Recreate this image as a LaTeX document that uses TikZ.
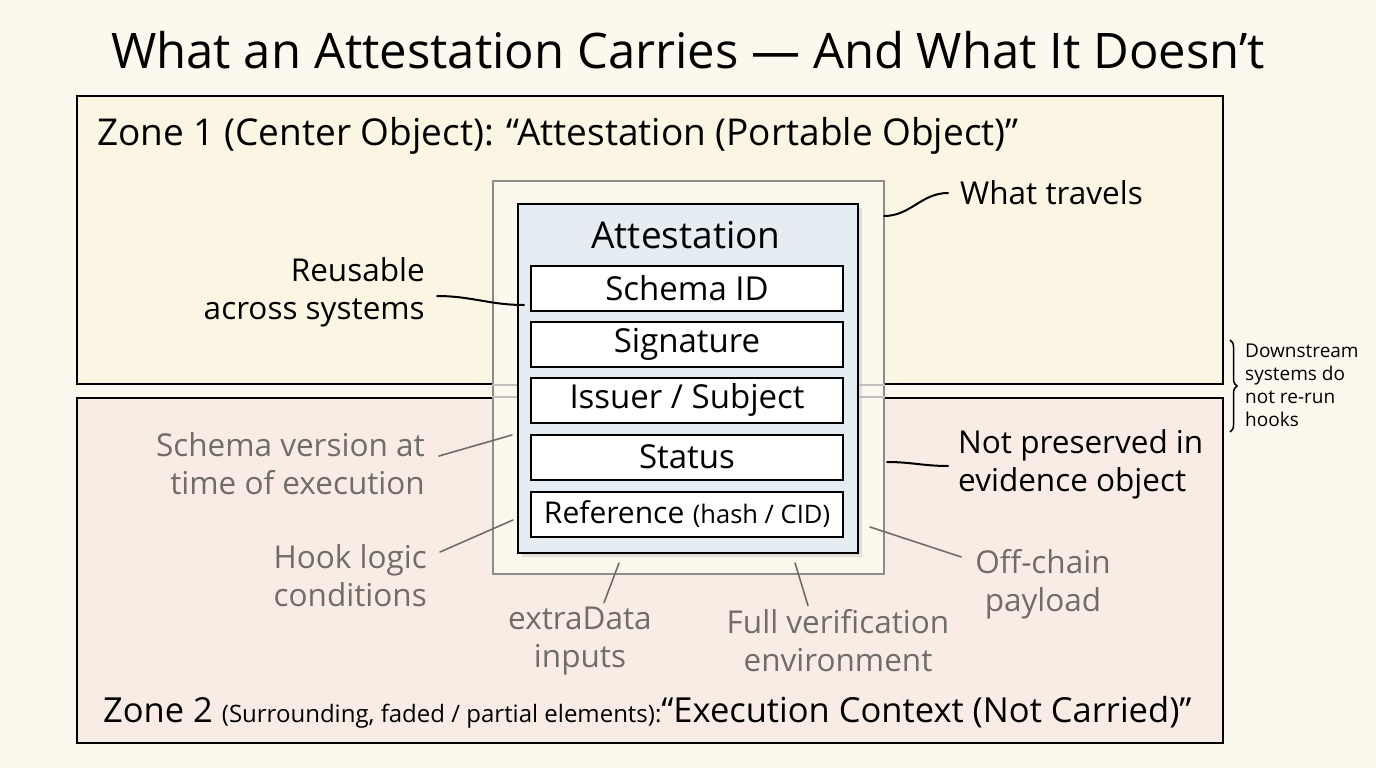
\documentclass[tikz,border=0pt]{standalone}
\usepackage{fontspec}
\setmainfont{Open Sans}
\usetikzlibrary{positioning,decorations.pathreplacing,shadows}

\definecolor{paper}{RGB}{251,248,238}
\definecolor{zoneone}{RGB}{251,245,228}
\definecolor{zonetwo}{RGB}{249,236,229}
\definecolor{cardblue}{RGB}{229,237,242}
\definecolor{fadegray}{RGB}{112,108,104}
\definecolor{framegray}{RGB}{140,140,138}

\begin{document}
\begin{tikzpicture}[x=1pt,y=-1pt,
  zone/.style={draw=black,line width=2pt,minimum width=1146pt,anchor=north west,inner sep=0pt},
  field/.style={draw=black,line width=2pt,fill=white,minimum width=312pt,minimum height=45pt,inner sep=0pt,font=\fontsize{33}{38}\selectfont},
  lab/.style={font=\fontsize{31.5}{38}\selectfont,inner sep=0pt},
  faded/.style={lab,text=fadegray},
  link/.style={line width=2pt,line cap=round},
  fadelink/.style={line width=1.6pt,draw=fadegray,line cap=round}
]
  % Canvas
  \fill[paper] (0,0) rectangle (1376,768);
  \useasboundingbox (0,0) rectangle (1376,768);

  % Title
  \node[font=\fontsize{49}{56}\selectfont,anchor=base] (title) at (688,68) {What an Attestation Carries — And What It Doesn’t};

  % Zones
  \node[zone,fill=zoneone,minimum height=288pt] (zone1) at (76,95) {};
  \node[zone,fill=zonetwo,minimum height=345pt] (zone2) at (76,397) {};
  \node[anchor=base west,inner sep=0pt,font=\fontsize{37}{42}\selectfont] (z1lab) at (97,145) {Zone 1 (Center Object): “Attestation (Portable Object)”};
  \node[anchor=base west,inner sep=0pt] (z2lab) at (103,722) {{\fontsize{34.5}{40}\selectfont Zone 2\ }{\fontsize{24}{30}\selectfont (Surrounding, faded / partial elements):}{\fontsize{34.5}{40}\selectfont “Execution Context (Not Carried)”}};

  % Object frame and card
  \node[draw=framegray,line width=1.5pt,fill=paper,minimum width=391pt,minimum height=393pt,anchor=north west,inner sep=0pt] (frame) at (492,180) {};
  \draw[framegray!55,line width=1.5pt] (frame.west |- zone1.south) -- (frame.east |- zone1.south);
  \draw[framegray!55,line width=1.5pt] (frame.west |- zone2.north) -- (frame.east |- zone2.north);
  \node[draw=black,line width=2.4pt,fill=cardblue,minimum width=340pt,minimum height=349pt,anchor=north west,inner sep=0pt,
        drop shadow={shadow xshift=4pt,shadow yshift=-4pt,fill=black!22}] (card) at (517,203) {};
  \node[font=\fontsize{37}{42}\selectfont,anchor=base] (cardtitle) at (686,248) {Attestation};

  % Fields
  \node[field] (schemaid) at (687,288) {Schema ID};
  \node[field] (signature) at (687,344) {Signature};
  \node[field] (issuer) at (687,400) {Issuer / Subject};
  \node[field] (status) at (687,457) {Status};
  \node[field] (reference) at (687,514) {{\fontsize{30}{34}\selectfont Reference} {\fontsize{25.5}{30}\selectfont (hash / CID)}};

  % Carried side
  \node[lab,align=right,anchor=east] (reuse) at (425,292) {Reusable\\across systems};
  \node[lab,anchor=west] (travels) at (960,193) {What travels};
  \node[lab,align=left,anchor=west] (notkept) at (958,464) {Not preserved in\\evidence object};
  \coordinate (reuseend) at (524,305);
  \coordinate (travelend) at (884,216);
  \coordinate (notkeptend) at (887,462);
  \draw[link] ([xshift=12pt,yshift=-4pt]reuse.east) to[out=0,in=180] (reuseend);
  \draw[link] (travelend) to[out=0,in=180] ([xshift=-12pt]travels.west);
  \draw[link] (notkeptend) to[out=0,in=180] ([xshift=-10pt,yshift=-2pt]notkept.west);

  % Not carried side
  \node[faded,align=right,anchor=east] (schemaver) at (425,464) {Schema version at\\time of execution};
  \node[faded,align=right,anchor=east] (hooklogic) at (427,576) {Hook logic\\conditions};
  \node[faded,align=center] (extradata) at (580,641) {extraData\\inputs};
  \node[faded,align=center] (fullverif) at (838,641) {Full verification\\environment};
  \node[faded,align=center] (offchain) at (1043,584) {Off-chain\\payload};
  \coordinate (schemaverend) at (512,435);
  \coordinate (hooklogicend) at (513,520);
  \coordinate (extradataend) at (619,563);
  \coordinate (fullverifend) at (795,563);
  \coordinate (offchainend) at (870,527);
  \draw[fadelink] ([xshift=14pt,yshift=8pt]schemaver.east) -- (schemaverend);
  \draw[fadelink] ([xshift=13pt,yshift=24pt]hooklogic.east) -- (hooklogicend);
  \draw[fadelink] ([xshift=24pt,yshift=4pt]extradata.north) -- (extradataend);
  \draw[fadelink] ([xshift=-30pt,yshift=4pt]fullverif.north) -- (fullverifend);
  \draw[fadelink] ([xshift=-14pt,yshift=-8pt]offchain.north west) -- (offchainend);

  % Downstream note
  \coordinate (bracetop) at (1230,340);
  \coordinate (bracebot) at (1230,432);
  \draw[line width=1.5pt,decorate,decoration={brace,amplitude=7pt}] (bracetop) -- (bracebot);
  \node[anchor=west,align=left,inner sep=0pt,font=\fontsize{19}{23}\selectfont] (downstream) at (1245,385) {Downstream\\systems do\\not re-run\\hooks};
\end{tikzpicture}
\end{document}
